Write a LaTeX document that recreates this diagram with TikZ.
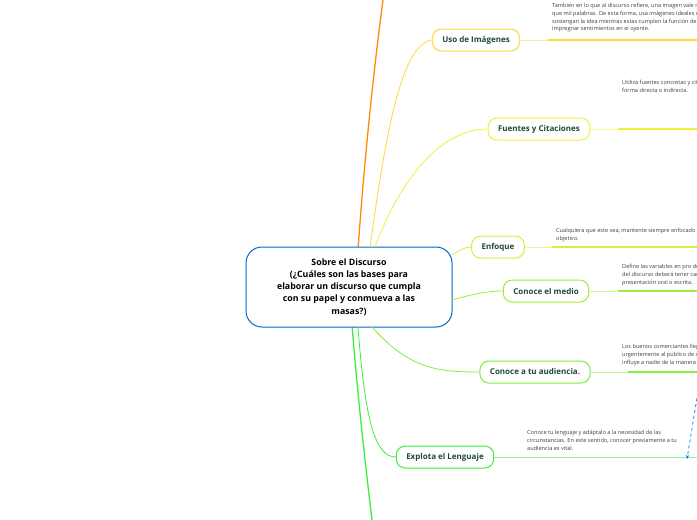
\documentclass[tikz,border=0pt]{standalone}
\usepackage{fontspec}
\setmainfont{Open Sans}
\usetikzlibrary{arrows.meta}
\definecolor{cA}{HTML}{FFD83A}
\definecolor{cB}{HTML}{F2EE3C}
\definecolor{cC}{HTML}{D4F03A}
\definecolor{cD}{HTML}{9EEE3A}
\definecolor{cE}{HTML}{7CF03A}
\definecolor{cF}{HTML}{3CF03A}
\definecolor{txt}{HTML}{1E4A3A}
\tikzset{
 br/.style={draw=#1,line width=1pt,rounded corners=9pt,fill=white,minimum height=22pt,inner xsep=10pt,font=\fontsize{8}{9}\selectfont\bfseries,text=txt},
 leaf/.style={anchor=north west,align=left,inner sep=0pt,font=\fontsize{5.6}{7.8}\selectfont,text=black!75},
 conn/.style={draw=#1,line width=0.8pt}
}
\begin{document}
\begin{tikzpicture}[x=1pt,y=-1pt]
\clip (0,0) rectangle (697,520);
\fill[white] (0,0) rectangle (697,520);
% trunk lines
\draw[orange!90!yellow,line width=1.3pt] (358,250) .. controls (365,150) and (375,60) .. (383,0);
\draw[cF,line width=1.3pt] (352,325) .. controls (358,400) and (366,470) .. (372,520);
% center
\node[draw=blue!50!cyan!80!black,line width=1pt,fill=white,rounded corners=16pt,minimum width=206pt,minimum height=80pt,align=center,font=\fontsize{8.8}{12.3}\selectfont\bfseries] (c) at (349,287) {Sobre el Discurso\\(¿Cuáles son las bases para\\elaborar un discurso que cumpla\\con su papel y conmueva a las\\masas?)};
% branches
\node[br=cA] (b1) at (476,40) {Uso de Imágenes};
\node[br=cB] (b2) at (539,129) {Fuentes y Citaciones};
\node[br=cC] (b3) at (498,247) {Enfoque};
\node[br=cD] (b4) at (546,291) {Conoce el medio};
\node[br=cE] (b5) at (535,372) {Conoce a tu audiencia.};
\node[br=cF] (b6) at (445,457) {Explota el Lenguaje};
\draw[conn=cA] (370,247) .. controls (385,140) and (400,45) .. (b1.west);
\draw[conn=cB] (375,247) .. controls (400,180) and (440,129) .. (b2.west);
\draw[conn=cC] (452,255) .. controls (460,250) and (465,247) .. (b3.west);
\draw[conn=cD] (452,300) .. controls (470,295) and (485,291) .. (b4.west);
\draw[conn=cE] (372,327) .. controls (410,370) and (440,372) .. (b5.west);
\draw[conn=cF] (358,327) .. controls (365,420) and (375,457) .. (b6.west);
% leaves
\node[leaf] (l1) at (552,3) {También en lo que al discurso refiere, una imagen vale más\\que mil palabras. De esta forma, usa imágenes ideales que\\sostengan la idea mientras estas cumplen la función de\\impregnar sentimientos en el oyente.};
\node[leaf] (l2) at (622,80) {Utiliza fuentes concretas y citas de\\forma directa o indirecta.};
\node[leaf] (l3) at (556,228) {Cualquiera que este sea, mantente siempre enfocado en tu\\objetivo.};
\node[leaf] (l4) at (622,264) {Define las variables en pro de cómo\\del discurso deberá tener cada\\presentación oral o escrita.};
\node[leaf] (l5) at (622,344) {Los buenos comerciantes llegan\\urgentemente al público de su\\influye a nadie de la manera};
\node[leaf] (l6) at (527,430) {Conoce tu lenguaje y adáptalo a la necesidad de las\\circunstancias. En este sentido, conocer previamente a tu\\audiencia es vital.};
% underlines
\draw[cA!50,line width=0.6pt] (b1.east) -- (548,40); \draw[cA,line width=1.5pt] (548,40) -- (697,40);
\draw[cB!50,line width=0.6pt] (b2.east) -- (618,129); \draw[cB,line width=1.5pt] (618,129) -- (697,129);
\draw[cC!50,line width=0.6pt] (b3.east) -- (552,247); \draw[cC,line width=1.5pt] (552,247) -- (697,247);
\draw[cD!50,line width=0.6pt] (b4.east) -- (618,291); \draw[cD,line width=1.5pt] (618,291) -- (697,291);
\draw[cE!50,line width=0.6pt] (b5.east) -- (628,372); \draw[cE,line width=1.5pt] (628,372) -- (697,372);
\draw[cF!60,line width=0.8pt] (b6.east) -- (697,457);
% dashed arrow
\coordinate (d1) at (697,398);
\coordinate (d2) at (687,459);
\draw[blue!60!cyan,dashed,line width=0.7pt,-{Stealth[length=4pt]}] (d1) -- (d2);
\end{tikzpicture}
\end{document}
